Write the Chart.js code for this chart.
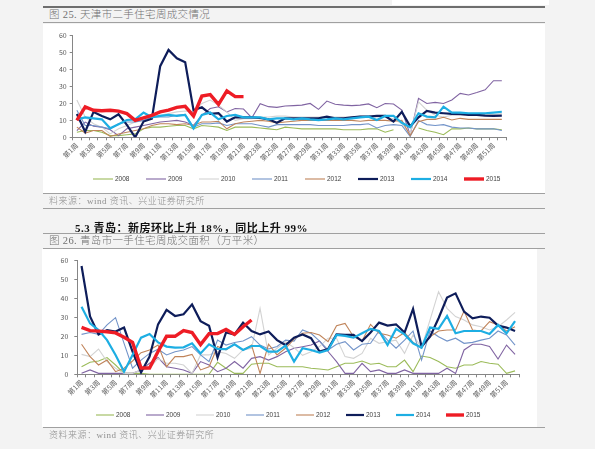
<!DOCTYPE html>
<html>
<head>
<meta charset="utf-8">
<script src="https://cdn.jsdelivr.net/npm/chart.js@4.4.1/dist/chart.umd.min.js"></script>
<style>
  body { margin: 0; width: 595px; height: 449px; background: #f3f3f3; position: relative; overflow: hidden;
         font-family: "Liberation Serif", "Noto Sans CJK SC", serif; }
  .ln { position: absolute; left: 43px; width: 502px; height: 0; border-top: 1.5px solid #a0a0a0; }
  .txt { position: absolute; white-space: nowrap; line-height: 12px; }
  .box { position: absolute; background: #fff; }
  .title { font-size: 10.5px; color: #707070; letter-spacing: 0.35px; font-weight: 300; }
  .src { font-size: 9px; color: #909090; letter-spacing: 0.5px; font-weight: 300; }
  canvas { position: absolute; }
</style>
</head>
<body>
<div class="box" style="left:392px;top:0;width:157px;height:5px;"></div>

<div class="ln" style="top:6px;border-top:2px solid #6e6e6e;"></div>
<div class="txt title" style="left:49px;top:9px;">图 25. 天津市二手住宅周成交情况</div>
<div class="ln" style="top:22px;"></div>
<div class="box" style="left:43px;top:24px;width:502px;height:169px;"></div>
<canvas id="tj" width="502" height="170" style="left:43px;top:24px;"></canvas>
<div class="ln" style="top:193px;"></div>
<div class="txt src" style="left:49px;top:195px;">料来源：wind 资讯、兴业证券研究所</div>
<div class="ln" style="top:208px;"></div>

<div class="txt" style="left:75px;top:222px;font-size:11px;font-weight:bold;color:#111;letter-spacing:0.5px;">5.3 青岛：新房环比上升 18%，同比上升 99%</div>
<div class="ln" style="top:233px;"></div>
<div class="txt title" style="left:49px;top:235px;">图 26. 青岛市一手住宅周成交面积（万平米）</div>
<div class="ln" style="top:248px;"></div>
<div class="box" style="left:42px;top:249px;width:495px;height:178px;"></div>
<canvas id="qd" width="495" height="178" style="left:42px;top:249px;"></canvas>
<div class="ln" style="top:427px;"></div>
<div class="txt src" style="left:49px;top:429px;">资料来源：wind 资讯、兴业证券研究所</div>

<script>
const weeks = ['第1周','第2周','第3周','第4周','第5周','第6周','第7周','第8周','第9周','第10周',
  '第11周','第12周','第13周','第14周','第15周','第16周','第17周','第18周','第19周','第20周',
  '第21周','第22周','第23周','第24周','第25周','第26周','第27周','第28周','第29周','第30周',
  '第31周','第32周','第33周','第34周','第35周','第36周','第37周','第38周','第39周','第40周',
  '第41周','第42周','第43周','第44周','第45周','第46周','第47周','第48周','第49周','第50周',
  '第51周','第52周'];
const years = ['2008', '2009', '2010', '2011', '2012', '2013', '2014', '2015'];
const yTicks = [0, 10, 20, 30, 40, 50, 60];

// 天津 二手住宅
const tj2008 = [3,4,4,3,1,1,1.5,2,5,6,6,6.5,7,7,5,7,6.5,6,4,6,6,6,5.5,5,4.5,6,5.5,5,5,5,5,5,4.5,4.5,4.5,5,5,3,4.5,null,null,5.5,4,3,1.5,5,5,5.5,5,5,5,4.5];
const tj2009 = [4,9,6.5,6,4.5,1,5,6,7,8,9,9.5,10,9,7,13,17,18,15,17,16.7,11.5,19.8,18.1,17.7,18.5,18.7,19,20,16.5,21.4,19.5,19,18.7,19,19.7,17.5,20,19.7,16.1,1.4,23,20,20.6,20,22,25.9,25,26.4,28,33.4,33.4];
const tj2010 = [22,12,8,6,2,5,7,9,10,12,13,14,15,15.5,15,20,22,19,15,10,11,11,12,12,12.5,12.5,12,12,12,12,12,12,12,12,12.5,12.5,12,12,11,8,2,21,16,13,12,13,13.5,13.5,14,13.5,13.5,14];
const tj2011 = [16,7,7,6,5,8,9,9,10,12,12,12,13,13.5,6,8,8,8.5,7,8,8,8,7,6,7.5,7.5,7.5,7.5,7.5,7,7,7,7,7.5,7.5,8,5.5,7,7.5,7,0.5,10,7.5,7,7.5,6,5.5,5.5,5,5,5,4];
const tj2012 = [6,2.5,4,4,0.5,2,3,4,5,7,8,8,7.5,8,7,9,9,9.5,5,8,9,9.5,10,9.5,8.5,9,9.5,10,10,10,10,10,10,10,9.5,10,10,10,9.5,10,1,9.2,10.6,10.6,11.8,10.2,11.2,10.6,10.6,10.6,10.6,10.6];
const tj2013 = [13.8,3.3,15,12.6,10.6,13.6,7.3,0,9.3,11,42,51.6,46.7,44.3,16,17.7,13.8,14.2,9.3,11.8,11.8,11.8,11.4,10.6,8.6,11.2,11.2,11.2,11.2,11.2,12.2,11.2,11.2,11.8,12.2,12.2,12.6,12.6,9.3,15,6.5,11.8,15.6,14.6,14.2,13.8,13.6,13.2,13.2,12.8,12.6,12.8];
const tj2014 = [10.6,11.8,11.2,10.6,5.3,7.7,10.2,10.6,14.6,11.8,12.6,13.2,12.6,13.2,5.3,13.2,14.6,10.6,12.6,13.2,11.8,11.8,11.8,10.6,11.2,11.2,10.6,11.2,10.6,10.2,10.6,11.2,10.6,11.2,11.8,12.2,10.2,12.6,12.6,8.6,5.9,14.2,12.2,11.8,18.1,14.6,14.6,14.2,14.2,14.2,14.6,15.1];
const tj2015 = [10,18,16,15.7,16,15.5,14,10,11.5,13,15,16,17.7,18.3,12.6,24.4,25.2,19.5,27.4,24,24];

// 青岛 一手住宅
const qd2008 = [4,6.3,7,8.8,4.9,0.5,0.5,0.5,0,0,0,0,0,0,0,0,6.3,3.2,0.5,0.5,5.3,5.8,5.8,4,4,4,4,3.2,2.8,2.3,4,5.8,5.8,7,5.3,5.8,4,4,7.5,1.4,9.6,8.8,6.7,4,3.2,4.9,4.9,6.7,5.8,5.3,0.5,1.8];
const qd2009 = [0.5,2.3,0.5,0.5,0.5,0.5,0.5,2.3,5.8,8.8,4,3.2,2.3,0.5,6.7,4.9,1.4,3.2,6.7,3.2,8.4,9.3,7.5,9.3,11.9,13.7,14.5,15.4,17.5,12,6.7,0.5,0.5,5.8,1.4,2.3,0.5,0.5,2.3,0.5,0.5,0.5,0.5,3.2,0.5,12.8,15.8,15.8,14.6,8,15.4,10.5];
const qd2010 = [10.5,9.3,13.3,6.7,3.2,0.5,0.5,2.3,3.2,8.4,5.8,5.8,4.9,0.5,10.2,10.2,11.9,11,8.4,12.8,13.7,34.7,10.2,13.7,17.2,14,10,11.9,14.6,19,19,9.3,8.4,11,19,16.3,17.2,18,11,20.7,14,28.6,43.5,34.7,30.4,28.6,26,25,23.3,25,28.6,32.6];
const qd2011 = [21,22,21,26,29.8,16.3,3.2,7.5,11,13.2,10.2,11.9,12.8,14.6,10.2,6.7,18,15.4,16.7,17.5,19.8,15.4,13.3,14.6,18,17.5,23.3,21.6,17.5,12.8,15.8,17.2,12.8,15.8,16.3,22.8,18,13.7,18,22.8,7.5,22.8,19.8,17.5,19,16.3,16.8,18,19,22.8,20.7,15.4];
const qd2012 = [15.8,9.3,4.9,7.5,1.4,3.2,7,11.4,12.8,15.4,4,9.3,9.3,10.5,2.3,4,14.6,12.8,15.8,12.8,15.4,0.5,15.8,10.2,13.7,18.5,21.6,22,20.7,17.2,25.6,26.8,19.8,17.5,26.3,21.6,20.7,19,22,16.8,14,19.8,22.8,23.3,23.3,33.3,23.3,22.8,27.7,26,22.8,25];
const qd2013 = [57,30.4,21,23.3,22.5,24.6,12,1,9.3,26.3,33.9,30.7,31.6,36.8,28,25.6,8.8,22,21,27.2,22.8,21,22.5,18,15.4,19.3,21,19,12,13.3,21,20.7,20.7,17.5,22,27.2,25.6,26.3,22,34.4,14.6,19.8,29.5,40.4,42.6,33,29.5,30.4,29.8,25.6,24.6,22.8];
const qd2014 = [35.6,26.8,23.3,18,10.2,1.4,10.2,19.3,21.2,16.8,14.6,14,14.2,16.3,11,15.8,13.3,13.2,15.8,12.8,14.9,14.9,11.9,11.9,15.1,6.7,13.7,12.8,11.4,12.8,20.7,20.2,19.3,21.6,23.9,22.8,15.4,23.9,21,16.3,14,24.6,23.9,30.7,21.6,22.8,22.8,22.8,21.2,26,21.6,28];
const qd2015 = [24.7,23,22.7,22.4,21.8,19.5,16.8,3.3,3.3,12,20,20,23,22,15.6,21.4,21.4,23.6,21,25,28.6];

const colors = ['#9bbb59', '#8064a2', '#d3d3d3', '#7394c9', '#c0845a', '#0e1d5a', '#1daee3', '#ee1c25'];
const widths = [1.1, 1.1, 1.1, 1.1, 1.1, 2.2, 2.2, 3.4];

Chart.defaults.font.family = '"Noto Sans CJK SC", "Liberation Sans", sans-serif';
Chart.defaults.animation = false;

// legend drawn as short lines, like the Excel original
const lineLegend = {
    id: 'lineLegend',
    afterDraw(chart, args, opts) {
        const ctx = chart.ctx;
        ctx.save();
        ctx.font = '6.5px "Liberation Sans", sans-serif';
        ctx.textBaseline = 'middle';
        chart.data.datasets.forEach((ds, i) => {
            const x = opts.x + i * opts.step;
            ctx.strokeStyle = ds.borderColor;
            ctx.lineWidth = ds.borderWidth;
            ctx.beginPath();
            ctx.moveTo(x, opts.y);
            ctx.lineTo(x + opts.len, opts.y);
            ctx.stroke();
            ctx.fillStyle = '#404040';
            ctx.fillText(ds.label, x + opts.len + 2, opts.y);
        });
        ctx.restore();
    }
};

function makeChart(id, series, box) {
    const datasets = series.map((data, i) => ({
        label: years[i],
        data: data,
        borderColor: colors[i],
        backgroundColor: colors[i],
        borderWidth: widths[i],
        pointRadius: 0,
        tension: 0,
        spanGaps: false,
        order: series.length - 1 - i
    }));

    return new Chart(document.getElementById(id), {
        type: 'line',
        data: { labels: weeks, datasets: datasets },
        plugins: [lineLegend],
        options: {
            responsive: false,
            layout: { padding: { left: 0, right: box.right, top: box.top, bottom: 0 } },
            plugins: {
                legend: { display: false },
                tooltip: { enabled: false },
                lineLegend: box.legend
            },
            scales: {
                x: {
                    offset: true,
                    border: { color: '#868686' },
                    grid: { offset: true, drawOnChartArea: false, tickLength: 3, color: '#868686' },
                    ticks: {
                        autoSkip: false,
                        minRotation: 45,
                        maxRotation: 45,
                        padding: 1,
                        color: '#666666',
                        font: { size: 7 },
                        callback: function(value, index) {
                            return index % 2 === 0 ? weeks[index] : '';
                        }
                    },
                    afterFit: (scale) => { scale.height = box.xHeight; }
                },
                y: {
                    min: yTicks[0],
                    max: yTicks[yTicks.length - 1],
                    border: { color: '#868686' },
                    grid: { drawOnChartArea: false, tickLength: 3, color: '#868686' },
                    ticks: {
                        stepSize: 10,
                        padding: box.yPad,
                        color: '#595959',
                        font: { size: 7 }
                    },
                    afterFit: (scale) => { scale.width = box.yWidth; }
                }
            }
        }
    });
}

makeChart('tj', [tj2008, tj2009, tj2010, tj2011, tj2012, tj2013, tj2014, tj2015], {
    top: 11.7, right: 39, xHeight: 56.7, yWidth: 29.7, yPad: 3,
    legend: { x: 50, y: 155, step: 53, len: 20 }
});

makeChart('qd', [qd2008, qd2009, qd2010, qd2011, qd2012, qd2013, qd2014, qd2015], {
    top: 11.3, right: 17.7, xHeight: 52.7, yWidth: 35.3, yPad: 6,
    legend: { x: 54, y: 166, step: 50, len: 18 }
});
</script>
</body>
</html>
